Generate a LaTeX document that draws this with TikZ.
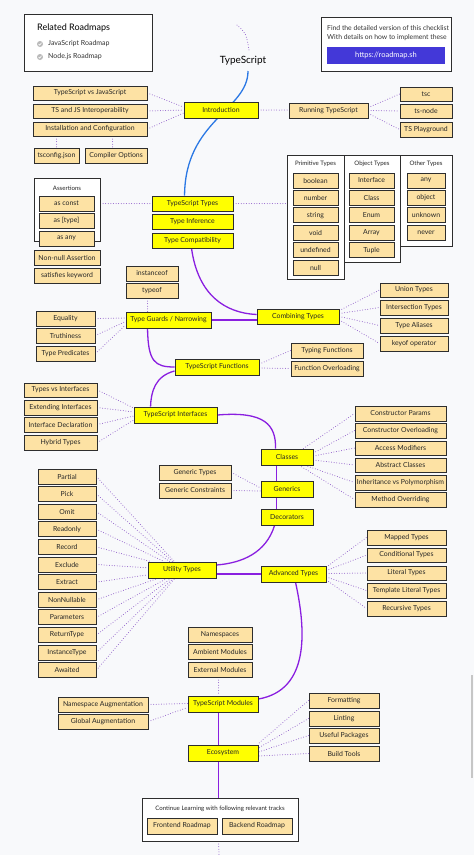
\documentclass[tikz,border=0pt]{standalone}
\usepackage{fontspec}
\setmainfont{Lato}
\usetikzlibrary{calc}
\definecolor{bgc}{HTML}{F8F9FB}
\definecolor{tanc}{HTML}{FDE2A4}
\definecolor{yelc}{HTML}{FFFF00}
\definecolor{bordc}{HTML}{2E2E2E}
\definecolor{purc}{HTML}{8A1FE0}
\definecolor{dotc}{HTML}{8E5BC9}
\definecolor{bluc}{HTML}{2B78E4}
\definecolor{btnc}{HTML}{4338D8}
\pgfdeclarelayer{bg}\pgfdeclarelayer{edges}\pgfsetlayers{bg,edges,main}
\newcommand\bx[7]{%
 \pgfmathsetmacro\bxw{#5-#3}\pgfmathsetmacro\bxh{#6-#4}%
 \pgfmathsetmacro\bxx{(#3+#5)/2}\pgfmathsetmacro\bxy{(#4+#6)/2}%
 \node[#1, minimum width=\bxw pt, minimum height=\bxh pt] (#2) at (\bxx,\bxy) {#7};}
\tikzset{
 base/.style={draw=bordc, line width=0.9pt, inner sep=0pt, font=\fontsize{6.9}{8}\selectfont, text=black!85},
 itm/.style={base, fill=tanc},
 mainn/.style={base, fill=yelc},
 grp/.style={draw=bordc, line width=0.9pt, fill=white, inner sep=0pt},
 hdr/.style={font=\fontsize{6.1}{7}\selectfont, text=black!85, inner sep=0pt},
 small/.style={font=\fontsize{6.8}{8}\selectfont, text=black!80, inner sep=0pt, anchor=west},
 dots/.style={draw=dotc, line width=1pt, line cap=round, dash pattern=on 0pt off 2.6pt},
 spine/.style={draw=purc, line width=1.3pt},
 bspine/.style={draw=bluc, line width=1.3pt},
 icon/.style={circle, fill=gray!55, minimum size=6pt, inner sep=0pt},
}
\begin{document}
\begin{tikzpicture}[x=1pt,y=-1pt]
\begin{pgfonlayer}{bg}
\fill[bgc] (0,0) rectangle (474,855);
\end{pgfonlayer}
\useasboundingbox (0,0) rectangle (474,855);
\fill[gray!45] (471,675) rectangle (473,778);

% ---------- header boxes
\bx{grp}{related}{24}{14}{152}{71}{}
\node[anchor=west, inner sep=0pt, font=\fontsize{9}{10}\selectfont] (relT) at (37,28) {Related Roadmaps};
\node[icon] (ic1) at (40,44) {};
\node[icon] (ic2) at (40,57) {};
\foreach \c in {ic1,ic2}{\draw[white, line width=0.6pt, line cap=round] ($(\c)+(-1.4,0)$) -- ($(\c)+(-0.3,1.1)$) -- ($(\c)+(1.5,-1.1)$);}
\node[small, font=\fontsize{7}{8}\selectfont] (jsr) at (48,44) {JavaScript Roadmap};
\node[small, font=\fontsize{7}{8}\selectfont] (nodr) at (48,57) {Node.js Roadmap};

\bx{grp}{info}{321}{17}{451}{71}{}
\node[small] (info1) at (327,28) {Find the detailed version of this checklist};
\node[small] (info2) at (327,38) {With details on how to implement these};
\bx{base, fill=btnc, draw=none, text=white, font=\fontsize{7.5}{9}\selectfont}{btn}{327}{47}{445}{64}{https://roadmap.sh}

\node[inner sep=0pt, font=\fontsize{10}{12}\selectfont] (title) at (243,61) {TypeScript};
\coordinate (topA) at (237,25);
\coordinate (topB) at (249,50);

% ---------- Introduction
\bx{mainn}{intro}{184}{102}{258}{118}{Introduction}
\bx{itm}{tvj}{33}{86}{147}{100}{TypeScript vs JavaScript}
\bx{itm}{tsjs}{33}{104}{147}{118}{TS and JS Interoperability}
\bx{itm}{install}{33}{122}{147}{136}{Installation and Configuration}
\bx{itm}{tsconfig}{34}{148}{79}{163}{tsconfig.json}
\bx{itm}{compiler}{85}{148}{147}{163}{Compiler Options}
\bx{itm}{running}{289}{103}{368}{118}{Running TypeScript}
\bx{itm}{tsc}{400}{87}{452}{101}{tsc}
\bx{itm}{tsnode}{400}{104}{452}{118}{ts-node}
\bx{itm}{tsplay}{400}{122}{452}{137}{TS Playground}

% ---------- Types
\bx{grp}{assertbox}{34}{178}{100}{241}{}
\node[hdr] (assertT) at (67,188) {Assertions};
\bx{itm}{ascon}{39}{196}{94}{211}{as const}
\bx{itm}{astype}{39}{213}{94}{228}{as [type]}
\bx{itm}{asany}{39}{231}{94}{246}{as any}
\bx{itm}{nonnull}{34}{250}{100}{265}{Non-null Assertion}
\bx{itm}{satisf}{34}{268}{100}{283}{satisfies keyword}
\bx{mainn}{tstypes}{152}{196}{233}{211}{TypeScript Types}
\bx{mainn}{tinf}{152}{214}{233}{229}{Type Inference}
\bx{mainn}{tcompat}{152}{233}{233}{248}{Type Compatibility}

\bx{grp}{primbox}{287}{155}{344}{279}{}
\bx{grp}{objbox}{344}{155}{400}{262}{}
\bx{grp}{othbox}{400}{155}{452}{246}{}
\node[hdr] (primT) at (315.5,164) {Primitive Types};
\node[hdr] (objT) at (372,164) {Object Types};
\node[hdr] (othT) at (426,164) {Other Types};
\foreach \n/\t [count=\i from 0] in {pa/boolean,pb/number,pc/string,pd/void,pe/undefined,pf/null}{
  \pgfmathsetmacro\ya{173+17.4*\i}\pgfmathsetmacro\yb{\ya+15}
  \bx{itm}{\n}{293}{\ya}{338}{\yb}{\t}}
\foreach \n/\t [count=\i from 0] in {oa/Interface,ob/Class,oc/Enum,od/Array,oe/Tuple}{
  \pgfmathsetmacro\ya{173+17.4*\i}\pgfmathsetmacro\yb{\ya+15}
  \bx{itm}{\n}{349}{\ya}{394}{\yb}{\t}}
\foreach \n/\t [count=\i from 0] in {xa/any,xb/object,xc/unknown,xd/never}{
  \pgfmathsetmacro\ya{173+17.4*\i}\pgfmathsetmacro\yb{\ya+15}
  \bx{itm}{\n}{407}{\ya}{445}{\yb}{\t}}

% ---------- Type guards / combining
\bx{itm}{instof}{126}{266}{178}{281}{instanceof}
\bx{itm}{typeofn}{126}{283}{178}{298}{typeof}
\bx{mainn}{tguards}{126}{312}{211}{328}{Type Guards / Narrowing}
\bx{itm}{equal}{36}{311}{95}{326}{Equality}
\bx{itm}{truth}{36}{328}{95}{343}{Truthiness}
\bx{itm}{tpred}{36}{346}{95}{361}{Type Predicates}
\bx{mainn}{combining}{257}{309}{339}{324}{Combining Types}
\bx{itm}{union}{380}{283}{448}{297}{Union Types}
\bx{itm}{inter}{380}{300}{448}{315}{Intersection Types}
\bx{itm}{alias}{380}{318}{448}{333}{Type Aliases}
\bx{itm}{keyof}{380}{336}{448}{351}{keyof operator}

% ---------- Functions / Interfaces
\bx{mainn}{tsfunc}{175}{359}{259}{375}{TypeScript Functions}
\bx{itm}{typingf}{291}{343}{363}{358}{Typing Functions}
\bx{itm}{funcov}{291}{361}{363}{376}{Function Overloading}
\bx{mainn}{tsint}{134}{407}{217}{423}{TypeScript Interfaces}
\bx{itm}{typesvs}{24}{383}{97}{397}{Types vs Interfaces}
\bx{itm}{extint}{24}{400}{97}{415}{Extending Interfaces}
\bx{itm}{intdecl}{24}{417}{97}{432}{Interface Declaration}
\bx{itm}{hybrid}{24}{435}{97}{450}{Hybrid Types}

% ---------- Classes / Generics
\bx{mainn}{classes}{261}{449}{313}{465}{Classes}
\bx{itm}{cparams}{355}{406}{446}{421}{Constructor Params}
\bx{itm}{coverl}{355}{423}{446}{438}{Constructor Overloading}
\bx{itm}{access}{355}{441}{446}{455}{Access Modifiers}
\bx{itm}{abstr}{355}{458}{446}{472}{Abstract Classes}
\bx{itm}{inherit}{355}{475}{446}{490}{Inheritance vs Polymorphism}
\bx{itm}{methov}{355}{492}{446}{507}{Method Overriding}
\bx{mainn}{generics}{261}{481}{313}{497}{Generics}
\bx{itm}{gentypes}{159}{465}{231}{480}{Generic Types}
\bx{itm}{genconst}{159}{483}{231}{498}{Generic Constraints}
\bx{mainn}{decor}{261}{509}{313}{525}{Decorators}

% ---------- Utility / Advanced
\bx{mainn}{utility}{148}{562}{216}{578}{Utility Types}
\bx{mainn}{advanced}{261}{566}{326}{582}{Advanced Types}
\foreach \n/\t [count=\i from 0] in {ua/Partial,ub/Pick,uc/Omit,ud/Readonly,ue/Record,uf/Exclude,ug/Extract,uh/NonNullable,ui/Parameters,uj/ReturnType,uk/InstanceType,ul/Awaited}{
  \pgfmathsetmacro\ya{469+17.6*\i}\pgfmathsetmacro\yb{\ya+15}
  \bx{itm}{\n}{38}{\ya}{96}{\yb}{\t}}
\bx{itm}{mapped}{367}{530}{446}{545}{Mapped Types}
\bx{itm}{condit}{367}{548}{446}{562}{Conditional Types}
\bx{itm}{literal}{367}{566}{446}{580}{Literal Types}
\bx{itm}{templ}{367}{583}{446}{598}{Template Literal Types}
\bx{itm}{recurs}{367}{601}{446}{616}{Recursive Types}

% ---------- Modules / Ecosystem
\bx{itm}{nspaces}{188}{627}{252}{642}{Namespaces}
\bx{itm}{ambient}{188}{644}{252}{659}{Ambient Modules}
\bx{itm}{external}{188}{662}{252}{677}{External Modules}
\bx{mainn}{tsmod}{188}{696}{258}{712}{TypeScript Modules}
\bx{itm}{nsaug}{58}{697}{148}{712}{Namespace Augmentation}
\bx{itm}{globaug}{58}{714}{148}{729}{Global Augmentation}
\bx{mainn}{ecosys}{188}{745}{258}{761}{Ecosystem}
\bx{itm}{format}{309}{693}{379}{708}{Formatting}
\bx{itm}{lint}{309}{711}{379}{726}{Linting}
\bx{itm}{useful}{309}{728}{379}{743}{Useful Packages}
\bx{itm}{build}{309}{746}{379}{761}{Build Tools}

\bx{grp}{contbox}{142}{798}{298}{841}{}
\node[hdr] (contT) at (220,809) {Continue Learning with following relevant tracks};
\bx{itm}{frontend}{147}{818}{217}{834}{Frontend Roadmap}
\bx{itm}{backend}{222}{818}{292}{834}{Backend Roadmap}
\coordinate (endB) at (219,855);

% ================= connectors
\begin{pgfonlayer}{edges}
\draw[dots] (topA) .. controls (246,33) .. (topB);
\draw[bspine] (248,71) .. controls (248,110) and (185,120) .. ($(tstypes.north west)+(33,0)$);
\draw[dots] (tvj.east) -- ($(intro.west)+(0,-3)$);
\draw[dots] (tsjs.east) -- (intro.west);
\draw[dots] (install.east) -- ($(intro.west)+(0,3)$);
\draw[dots] ($(install.south west)+(24,0)$) -- ($(tsconfig.north west)+(23,0)$);
\draw[dots] ($(install.south west)+(80,0)$) -- ($(compiler.north west)+(28,0)$);
\draw[dots] (intro.east) -- (intro.east -| running.west);
\draw[dots] ($(running.east)+(0,-3)$) -- (tsc.west);
\draw[dots] (running.east) -- (tsnode.west);
\draw[dots] ($(running.east)+(0,3)$) -- (tsplay.west);

\draw[dots] (assertbox.east |- tstypes.west) -- (tstypes.west);
\draw[dots] (tstypes.east) -- (tstypes.east -| primbox.west);

\draw[spine] ($(tcompat.south west)+(40,0)$) .. controls (198,295) and (225,313) .. ($(combining.west)+(0,-2)$);
\draw[spine] (tguards.east) -- (tguards.east -| combining.west);
\draw[dots] ($(typeofn.south west)+(22,0)$) -- ($(tguards.north west)+(22,0)$);
\draw[dots] (equal.east) -- ($(tguards.west)+(0,-2)$);
\draw[dots] (truth.east) -- ($(tguards.west)+(0,1.5)$);
\draw[dots] (tpred.east) -- ($(tguards.west)+(0,5)$);
\draw[dots] ($(combining.east)+(0,-6)$) -- (union.west);
\draw[dots] ($(combining.east)+(0,-3)$) -- (inter.west);
\draw[dots] ($(combining.east)+(0,0)$) -- (alias.west);
\draw[dots] ($(combining.east)+(0,3.5)$) -- (keyof.west);

\draw[spine] ($(tguards.south west)+(22,0)$) .. controls (148,362) and (155,367) .. ($(tsfunc.west)+(0,0)$);
\draw[dots] ($(tsfunc.east)+(0,-3)$) -- (typingf.west);
\draw[dots] ($(tsfunc.east)+(0,1)$) -- (funcov.west);
\draw[spine] ($(tsfunc.west)+(0,4)$) .. controls (155,376) and (151,392) .. ($(tsint.north west)+(17,0)$);
\draw[dots] (typesvs.east) -- ($(tsint.west)+(0,-7)$);
\draw[dots] (extint.east) -- ($(tsint.west)+(0,-3)$);
\draw[dots] (intdecl.east) -- ($(tsint.west)+(0,1)$);
\draw[dots] (hybrid.east) -- ($(tsint.west)+(0,5)$);

\draw[spine] (tsint.east) .. controls (265,411) and (276,425) .. ($(classes.north west)+(15,0)$);
\draw[dots] ($(classes.north east)+(-10,0)$) -- (cparams.west);
\draw[dots] ($(classes.east)+(0,-4)$) -- (coverl.west);
\draw[dots] ($(classes.east)+(0,-1)$) -- (access.west);
\draw[dots] ($(classes.east)+(0,3)$) -- (abstr.west);
\draw[dots] ($(classes.south east)+(-8,0)$) -- (inherit.west);
\draw[dots] ($(classes.south east)+(-14,0)$) -- (methov.west);
\draw[spine] ($(classes.south west)+(16,0)$) -- ($(generics.north west)+(16,0)$);
\draw[dots] (gentypes.east) -- ($(generics.west)+(0,-1)$);
\draw[dots] (genconst.east) -- ($(generics.west)+(0,2)$);
\draw[spine] ($(generics.south west)+(16,0)$) -- ($(decor.north west)+(16,0)$);

\draw[spine] ($(decor.south west)+(14,0)$) .. controls (266,553) and (242,563) .. ($(utility.east)+(0,-5)$);
\draw[spine] (advanced.west) -- (advanced.west -| utility.east);
\foreach \n in {ua,ub,uc,ud,ue,uf,ug,uh,ui,uj,uk,ul}{\draw[dots] (\n.east) -- (utility);}
\draw[dots] ($(advanced.east)+(0,-7)$) -- (mapped.west);
\draw[dots] ($(advanced.east)+(0,-3.5)$) -- (condit.west);
\draw[dots] ($(advanced.east)+(0,-0.5)$) -- (literal.west);
\draw[dots] ($(advanced.east)+(0,3)$) -- (templ.west);
\draw[dots] ($(advanced.east)+(0,6)$) -- (recurs.west);

\draw[spine] ($(advanced.south west)+(35,0)$) .. controls (306,630) and (310,690) .. ($(tsmod.east)+(0,-5)$);
\draw[dots] ($(external.south west)+(31,0)$) -- ($(tsmod.north west)+(31,0)$);
\draw[dots] (nsaug.east) -- ($(tsmod.west)+(0,-0.5)$);
\draw[dots] (globaug.east) -- ($(tsmod.west)+(0,3.5)$);
\draw[spine] ($(tsmod.south west)+(31,0)$) -- ($(ecosys.north west)+(31,0)$);
\draw[dots] (format.west) -- ($(ecosys.north east)+(0,-1)$);
\draw[dots] (lint.west) -- ($(ecosys.east)+(0,-5)$);
\draw[dots] (useful.west) -- ($(ecosys.east)+(0,-1)$);
\draw[dots] (build.west) -- ($(ecosys.east)+(0,3)$);
\draw[spine] ($(ecosys.south west)+(31,0)$) -- ($(contbox.north west)+(77,0)$);
\draw[dots] ($(contbox.south west)+(77,0)$) -- (endB);
\end{pgfonlayer}
\end{tikzpicture}
\end{document}
